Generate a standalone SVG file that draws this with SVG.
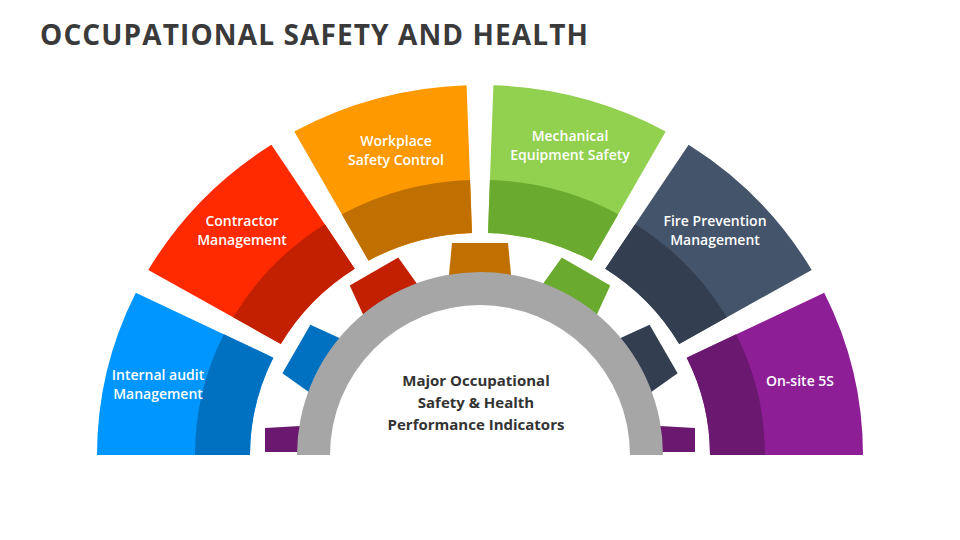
<svg xmlns="http://www.w3.org/2000/svg" width="960" height="540" viewBox="0 0 960 540">
<style>
.lbl{font-family:"Open Sans","Liberation Sans",sans-serif;font-size:14px;fill:#fff;text-anchor:middle;font-weight:600}
.ctr{font-family:"Open Sans","Liberation Sans",sans-serif;font-size:15px;fill:#333;text-anchor:middle;font-weight:700}
</style>
<defs>
<path id="tooth" d="M448,285 L512,285 L508,243 L452,243 Z"/>
</defs>
<rect width="960" height="540" fill="#fff"/>
<text x="40" y="45" font-family="'Open Sans','Liberation Sans',sans-serif" font-size="28" font-weight="700" fill="#3a3a3a" textLength="548">OCCUPATIONAL SAFETY AND HEALTH</text>
<g id="teeth">
<use href="#tooth" fill="#0070C0" transform="rotate(-60 480 455)"/>
<use href="#tooth" fill="#C22000" transform="rotate(-30 480 455)"/>
<use href="#tooth" fill="#C07000"/>
<use href="#tooth" fill="#6AAA2E" transform="rotate(30 480 455)"/>
<use href="#tooth" fill="#333F50" transform="rotate(60 480 455)"/>
<polygon points="265,428 300,426 300,452 265,452" fill="#6A1870"/>
<polygon points="695,428 660,426 660,452 695,452" fill="#6A1870"/>
</g>
<g id="hub">
<path d="M297,455 A183,183 0 0 1 663,455 L630,455 A150,150 0 0 0 330,455 Z" fill="#A6A6A6"/>
<text class="ctr" x="476" y="386">Major Occupational</text>
<text class="ctr" x="476" y="408">Safety &amp; Health</text>
<text class="ctr" x="476" y="430">Performance Indicators</text>
</g>
<g transform="translate(0,455) scale(1,0.966) translate(0,-455)">
<g id="seg1">
<path d="M97,455 A383,383 0 0 1 135.8,287.1 L273.3,354.2 A230,230 0 0 0 250,455 Z" fill="#0096FF"/>
<path d="M195,455 A285,285 0 0 1 223.8,330.1 L273.3,354.2 A230,230 0 0 0 250,455 Z" fill="#0070C0"/>
</g>
<g id="seg2">
<path d="M148.3,263.5 A383,383 0 0 1 271.4,133.8 L354.7,262.1 A230,230 0 0 0 280.8,340 Z" fill="#FF2A00"/>
<path d="M233.2,312.5 A285,285 0 0 1 324.8,216 L354.7,262.1 A230,230 0 0 0 280.8,340 Z" fill="#C22000"/>
</g>
<g id="seg3">
<path d="M294.3,120 A383,383 0 0 1 466.6,72.2 L472,225.1 A230,230 0 0 0 368.5,253.8 Z" fill="#FF9900"/>
<path d="M341.8,205.7 A285,285 0 0 1 470.1,170.2 L472,225.1 A230,230 0 0 0 368.5,253.8 Z" fill="#C07000"/>
</g>
<g id="seg4">
<path d="M665.7,120 A383,383 0 0 0 493.4,72.2 L488,225.1 A230,230 0 0 1 591.5,253.8 Z" fill="#92D050"/>
<path d="M618.2,205.7 A285,285 0 0 0 489.9,170.2 L488,225.1 A230,230 0 0 1 591.5,253.8 Z" fill="#6AAA2E"/>
</g>
<g id="seg5">
<path d="M811.7,263.5 A383,383 0 0 0 688.6,133.8 L605.3,262.1 A230,230 0 0 1 679.2,340 Z" fill="#44546A"/>
<path d="M726.8,312.5 A285,285 0 0 0 635.2,216 L605.3,262.1 A230,230 0 0 1 679.2,340 Z" fill="#333F50"/>
</g>
<g id="seg6">
<path d="M863,455 A383,383 0 0 0 824.2,287.1 L686.7,354.2 A230,230 0 0 1 710,455 Z" fill="#8E1E96"/>
<path d="M765,455 A285,285 0 0 0 736.2,330.1 L686.7,354.2 A230,230 0 0 1 710,455 Z" fill="#6A1870"/>
</g>
</g>
<g id="labels">
<text class="lbl" x="158" y="380">Internal audit</text>
<text class="lbl" x="158" y="399">Management</text>
<text class="lbl" x="242" y="226">Contractor</text>
<text class="lbl" x="242" y="245">Management</text>
<text class="lbl" x="396" y="146">Workplace</text>
<text class="lbl" x="396" y="165">Safety Control</text>
<text class="lbl" x="570" y="141">Mechanical</text>
<text class="lbl" x="570" y="160">Equipment Safety</text>
<text class="lbl" x="715" y="226">Fire Prevention</text>
<text class="lbl" x="715" y="245">Management</text>
<text class="lbl" x="800" y="386">On-site 5S</text>
</g>
<g id="connectors"/>
</svg>
